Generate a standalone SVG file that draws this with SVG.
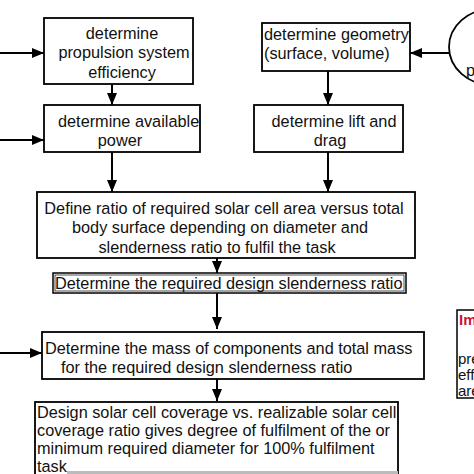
<svg xmlns="http://www.w3.org/2000/svg" width="474" height="474" viewBox="0 0 474 474">
<defs>
<style>
.box{fill:#fff;stroke:#000;stroke-width:1.8}
.t{font-family:"Liberation Sans",Arial,sans-serif;font-size:16.3px;fill:#111}
.m{text-anchor:middle}
.c{fill:none;stroke:#000;stroke-width:2}
.s{font-family:"Liberation Sans",Arial,sans-serif;font-size:15px;fill:#111}
</style>
<marker id="ah" viewBox="0 0 12 10" refX="12" refY="5" markerWidth="12" markerHeight="10" markerUnits="userSpaceOnUse" orient="auto">
<path d="M0,0 L12,5 L0,10 z" fill="#000"/>
</marker>
</defs>
<rect width="474" height="474" fill="#fff"/>
<g id="connectors">
<line class="c" x1="0" y1="53" x2="44" y2="53" marker-end="url(#ah)"/>
<line class="c" x1="0" y1="140" x2="44" y2="140" marker-end="url(#ah)"/>
<line class="c" x1="112" y1="84" x2="112" y2="105" marker-end="url(#ah)"/>
<line class="c" x1="112" y1="152" x2="112" y2="192" marker-end="url(#ah)"/>
<line class="c" x1="449" y1="53" x2="410" y2="53" marker-end="url(#ah)"/>
<line class="c" x1="328" y1="71" x2="328" y2="105" marker-end="url(#ah)"/>
<line class="c" x1="328" y1="152" x2="328" y2="192" marker-end="url(#ah)"/>
<line class="c" x1="217" y1="258" x2="217" y2="273" marker-end="url(#ah)"/>
<line class="c" x1="217" y1="293" x2="217" y2="329" marker-end="url(#ah)"/>
<line class="c" x1="0" y1="353" x2="42" y2="353" marker-end="url(#ah)"/>
<line class="c" x1="217" y1="379" x2="217" y2="401" marker-end="url(#ah)"/>
</g>
<g id="n_efficiency">
<rect class="box" x="44" y="18" width="149" height="66"/>
<text class="t m" x="122" y="39">determine</text>
<text class="t m" x="124" y="58">propulsion system</text>
<text class="t m" x="122" y="78">efficiency</text>
</g>
<g id="n_power">
<rect class="box" x="44" y="105" width="156" height="47"/>
<text class="t" x="58" y="127">determine available</text>
<text class="t m" x="120" y="146">power</text>
</g>
<g id="n_geometry">
<rect class="box" x="262" y="23" width="148" height="48"/>
<text class="t" x="264" y="40">determine geometry</text>
<text class="t" x="264" y="59">(surface, volume)</text>
</g>
<g id="n_lift">
<rect class="box" x="254" y="105" width="149" height="47"/>
<text class="t m" x="334" y="127">determine lift and</text>
<text class="t m" x="330" y="146">drag</text>
</g>
<g id="n_circle">
<ellipse cx="492" cy="47" rx="43" ry="38" fill="#fff" stroke="#000" stroke-width="1.8"/>
<text class="t" x="466" y="76">p</text>
</g>
<g id="n_ratio">
<rect class="box" x="37" y="192" width="378" height="66"/>
<text class="t m" x="224" y="214">Define ratio of required solar cell area versus total</text>
<text class="t m" x="220" y="233">body surface depending on diameter and</text>
<text class="t m" x="217" y="253">slenderness ratio to fulfil the task</text>
</g>
<g id="n_slenderness">
<rect x="53" y="273" width="353" height="20" fill="#fff" stroke="#000" stroke-width="1.5"/>
<rect x="55" y="275" width="349" height="16" fill="none" stroke="#000" stroke-width="0.7"/>
<text class="t" x="55" y="289">Determine the required design slenderness ratio</text>
</g>
<g id="n_mass">
<rect class="box" x="42" y="332" width="382" height="47"/>
<text class="t" x="45" y="354">Determine the mass of components and total mass</text>
<text class="t" x="61" y="373">for the required design slenderness ratio</text>
</g>
<g id="n_coverage">
<rect class="box" x="35" y="402" width="363" height="80"/>
<text class="t" x="37" y="418">Design solar cell coverage vs. realizable solar cell</text>
<text class="t" x="37" y="436">coverage ratio gives degree of fulfilment of the  or</text>
<text class="t" x="37" y="454">minimum required diameter for 100% fulfilment</text>
<text class="t" x="37" y="472">task</text>
<rect x="67" y="471" width="331" height="3" fill="#bbb"/>
</g>
<g id="n_side">
<rect x="457" y="310" width="30" height="88" fill="#fff" stroke="#000" stroke-width="1.5"/>
<text x="459" y="325" font-family="Liberation Sans, Arial, sans-serif" font-size="15" font-weight="bold" fill="#c8143c">Im</text>
<text class="s" x="458" y="364">pre</text>
<text class="s" x="458" y="380">eff</text>
<text class="s" x="458" y="396">are</text>
</g>
</svg>
